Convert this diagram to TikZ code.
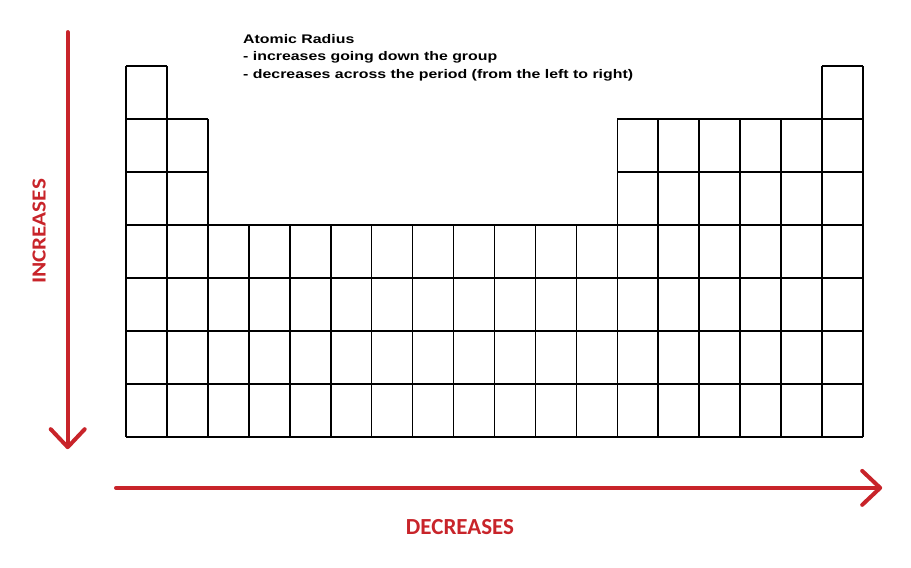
\documentclass[tikz,border=0pt]{standalone}
\usepackage{fontspec}
\setmainfont{Liberation Sans}
\newfontfamily\notefont[FakeStretch=1.27]{Liberation Sans}
\newfontfamily\calibri{Carlito}
\newfontfamily\calibriwide[FakeStretch=1.16]{Carlito}
\usetikzlibrary{arrows.meta}
\definecolor{arrowred}{RGB}{200,36,42}

\begin{document}
\begin{tikzpicture}[x=40.94pt, y=-53pt]
\useasboundingbox (-3.078,-1.245) rectangle (19.174,9.453);
%% top of the table
\draw[line width=1.6pt] (0, 0) -- (1, 0);
\draw[line width=1.6pt] (17, 0) -- (18, 0);
\draw[line width=1.6pt] (0, 1) -- (2, 1);
\draw[line width=1.6pt] (12, 1) -- (18, 1);
\draw[line width=1.6pt] (0, 2) -- (2, 2);
\draw[line width=1.6pt] (12, 2) -- (18, 2);
\draw[line width=1.6pt] (0, 3) -- (18, 3);
\draw[line width=1.6pt] (0, 4) -- (18, 4);
\draw[line width=1.6pt] (0, 5) -- (18, 5);
\draw[line width=1.6pt] (0, 6) -- (18, 6);
\draw[line width=1.6pt] (0, 7) -- (18, 7);
%%------------
\draw[line width=1.6pt] (0, 0) -- (0, 7);
\draw[line width=1.6pt] (1, 0) -- (1, 7);
\draw[line width=1.6pt] (2, 1) -- (2, 7);
\draw[line width=1.6pt] (3, 3) -- (3, 7);
\draw[line width=1.6pt] (4, 3) -- (4, 7);
\draw[line width=1.6pt] (5, 3) -- (5, 7);
\draw[line width=1.6pt] (6, 3) -- (6, 7);
\draw[line width=1.6pt] (7, 3) -- (7, 7);
\draw[line width=1.6pt] (8, 3) -- (8, 7);
\draw[line width=1.6pt] (9, 3) -- (9, 7);
\draw[line width=1.6pt] (10, 3) -- (10, 7);
\draw[line width=1.6pt] (11, 3) -- (11, 7);
\draw[line width=1.6pt] (12, 1) -- (12, 7);
\draw[line width=1.6pt] (13, 1) -- (13, 7);
\draw[line width=1.6pt] (14, 1) -- (14, 7);
\draw[line width=1.6pt] (15, 1) -- (15, 7);
\draw[line width=1.6pt] (16, 1) -- (16, 7);
\draw[line width=1.6pt] (17, 0) -- (17, 7);
\draw[line width=1.6pt] (18, 0) -- (18, 7);
%%------------
\node[anchor=north west, inner sep=0pt, align=left, font=\notefont\fontsize{12.5}{17.5}\selectfont\bfseries] (note) at (2.858, -0.604)
  {Atomic Radius\\- increases going down the group\\- decreases across the period (from the left to right)};
%%------------
\coordinate (vtop) at (-1.424, -0.64);
\coordinate (vtip) at (-1.424, 7.23);
\coordinate (hstart) at (-0.244, 7.96);
\coordinate (htip) at (18.47, 7.96);
\draw[arrowred, line width=4pt, line cap=round, -{Straight Barb[length=18pt, width=34pt, round]}] (vtop) -- (vtip);
\draw[arrowred, line width=4pt, line cap=round, -{Straight Barb[length=18pt, width=34pt, round]}] (hstart) -- (htip);
\node[arrowred, rotate=90, inner sep=0pt, font=\calibriwide\fontsize{20}{24}\selectfont\bfseries] (incr) at (-2.12, 3.123) {INCREASES};
\node[arrowred, inner sep=0pt, font=\calibri\fontsize{23}{27}\selectfont\bfseries] (decr) at (8.158, 8.698) {DECREASES};
\end{tikzpicture}
\end{document}
